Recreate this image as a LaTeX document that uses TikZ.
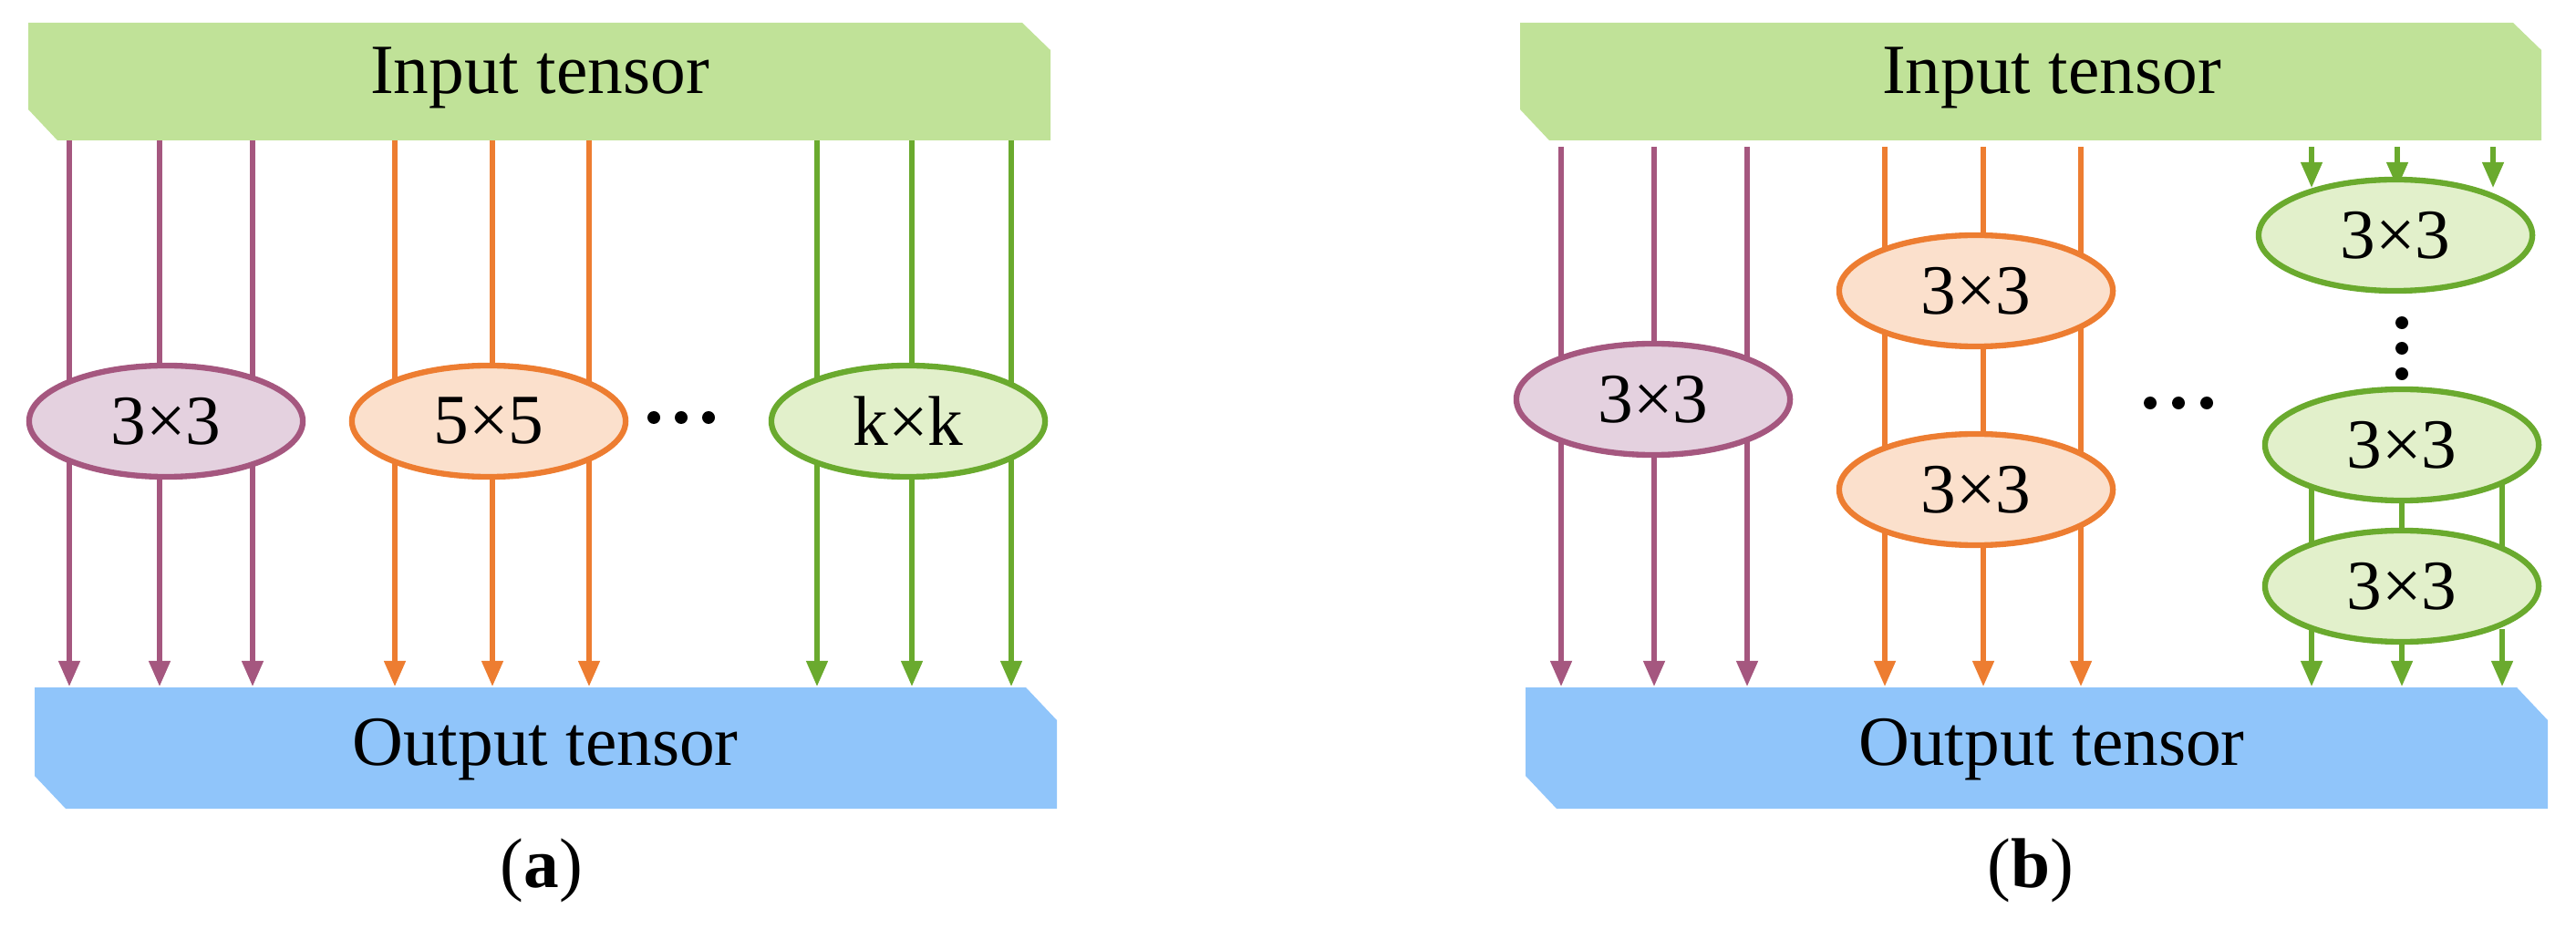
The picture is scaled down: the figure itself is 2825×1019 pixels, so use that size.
\documentclass[tikz,border=0pt]{standalone}
\usepackage{fontspec}
\setmainfont{Liberation Serif}
\usetikzlibrary{arrows.meta, shapes.geometric}
\definecolor{inGreen}{HTML}{C0E298}
\definecolor{outBlue}{HTML}{90C5FA}
\definecolor{plum}{HTML}{A5577F}
\definecolor{plumFill}{HTML}{E4D1DF}
\definecolor{tang}{HTML}{ED7D31}
\definecolor{tangFill}{HTML}{FBE0CC}
\definecolor{leaf}{HTML}{6AAA2E}
\definecolor{leafFill}{HTML}{E2F0CB}
\begin{document}
\begin{tikzpicture}[x=0.01cm, y=-0.01cm,
    every node/.style={font=\fontsize{22}{26}\selectfont},
    flow/.style={line width=1.5pt, -{Triangle[length=8pt,width=6.5pt]}},
    kernel/.style={ellipse, draw, line width=1.8pt, minimum width=3cm, minimum height=1.22cm, inner sep=0pt}]
        \useasboundingbox (0, 0) rectangle (2825, 1019);

        % (a)
        \fill[inGreen] (31, 25) -- (1121, 25) -- (1152, 55) -- (1152, 154) -- (63, 154) -- (31, 120) -- cycle;
        \node (inA) at (592, 85) {Input tensor};
        \fill[outBlue] (38, 754) -- (1125, 754) -- (1159, 790) -- (1159, 887) -- (72, 887) -- (38, 851) -- cycle;
        \node (outA) at (598, 822) {Output tensor};

        \foreach \x in {76, 175, 277} \draw[flow, plum] (\x, 154) -- (\x, 753);
        \foreach \x in {433, 540, 646} \draw[flow, tang] (\x, 154) -- (\x, 753);
        \foreach \x in {896, 1000, 1109} \draw[flow, leaf] (\x, 154) -- (\x, 753);

        \node[kernel, plum, fill=plumFill, text=black] (a1) at (182, 462) {3×3};
        \node[kernel, tang, fill=tangFill, text=black] (a2) at (536, 462) {5×5};
        \node[kernel, leaf, fill=leafFill, text=black] (a3) at (996, 462) {k×k};
        \foreach \x in {717, 747, 777} \fill (\x, 458) circle (7);

        \node (labA) at (594, 955) {(\textbf{a})};

        % (b)
        \fill[inGreen] (1667, 25) -- (2756, 25) -- (2787, 55) -- (2787, 154) -- (1699, 154) -- (1667, 120) -- cycle;
        \node (inB) at (2250, 85) {Input tensor};
        \fill[outBlue] (1673, 754) -- (2760, 754) -- (2794, 790) -- (2794, 887) -- (1707, 887) -- (1673, 851) -- cycle;
        \node (outB) at (2250, 822) {Output tensor};

        \foreach \x in {1712, 1814, 1916} \draw[flow, plum] (\x, 161) -- (\x, 753);
        \foreach \x in {2067, 2175, 2282} \draw[flow, tang] (\x, 161) -- (\x, 753);
        \foreach \x in {2535, 2629, 2734} \draw[flow, leaf] (\x, 161) -- (\x, 206);
        \foreach \x in {2535, 2634, 2744} \draw[leaf, line width=1.5pt] (\x, 520) -- (\x, 610);
        \foreach \x in {2535, 2634, 2744} \draw[flow, leaf] (\x, 690) -- (\x, 753);

        \node[kernel, plum, fill=plumFill, text=black] (b1) at (1813, 438) {3×3};
        \node[kernel, tang, fill=tangFill, text=black] (b2) at (2167, 319) {3×3};
        \node[kernel, tang, fill=tangFill, text=black] (b3) at (2167, 537) {3×3};
        \node[kernel, leaf, fill=leafFill, text=black] (b4) at (2627, 258) {3×3};
        \node[kernel, leaf, fill=leafFill, text=black] (b5) at (2634, 488) {3×3};
        \node[kernel, leaf, fill=leafFill, text=black] (b6) at (2634, 643) {3×3};
        \foreach \x in {2358, 2389, 2420} \fill (\x, 442) circle (7);
        \foreach \y in {354, 382, 410} \fill (2634, \y) circle (7);

        \node (labB) at (2227, 955) {(\textbf{b})};
    \end{tikzpicture}
\end{document}
